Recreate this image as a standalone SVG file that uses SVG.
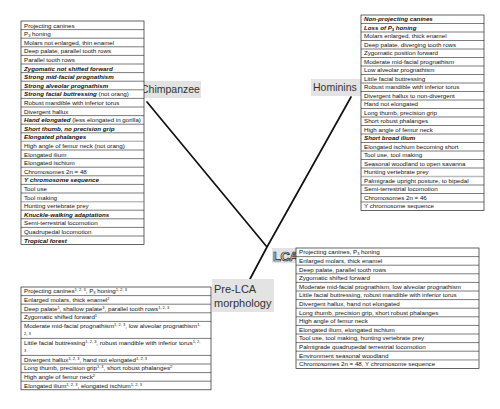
<svg xmlns="http://www.w3.org/2000/svg" width="500" height="409" viewBox="0 0 500 409">
<style>
.t{font-family:"Liberation Sans",Arial,sans-serif;font-size:6.2px;fill:#111}
.bi{font-weight:bold;font-style:italic}
.sup{font-size:4px}
.tb{fill:#fff;stroke:#222;stroke-width:0.7}
.rl{fill:none;stroke:#222;stroke-width:0.6}
.gl{fill:none;stroke:#bbb;stroke-width:1.4}
.lb{fill:#e3e3e3}
.lt{font-family:"Liberation Sans",Arial,sans-serif;font-size:10.5px;fill:#333}
.br{fill:none;stroke:#111;stroke-width:1.7;stroke-linecap:round}
</style>
<rect width="500" height="409" fill="#fff"/>
<g id="connectors">
<path class="br" d="M147 102L267 247M351 97L267 247M267 247L250 279"/>
</g>
<g id="chimpanzee">
<rect class="lb" x="139" y="81" width="62" height="17"/>
<text class="lt" x="141" y="93">Chimpanzee</text>
<rect class="tb" x="21" y="21" width="123" height="223.6"/>
<path class="rl" d="M21 29.6H144M21 38.2H144M21 46.8H144M21 55.4H144M21 64H144M21 72.6H144M21 81.2H144M21 89.8H144M21 98.4H144M21 107H144M21 115.6H144M21 124.2H144M21 132.8H144M21 141.4H144M21 150H144M21 158.6H144M21 167.2H144M21 175.8H144M21 184.4H144M21 193H144M21 201.6H144M21 210.2H144M21 218.8H144M21 227.4H144M21 236H144"/>
<path class="gl" d="M21.5 141.4H143.5M21.5 201.6H143.5"/>
<g class="t">
<text x="24" y="27.5">Projecting canines</text>
<text x="24" y="36.1">P<tspan class="sup" dy="1">3</tspan><tspan dy="-1"> honing</tspan></text>
<text x="24" y="44.7">Molars not enlarged, thin enamel</text>
<text x="24" y="53.3">Deep palate, parallel tooth rows</text>
<text x="24" y="61.9">Parallel tooth rows</text>
<text x="24" y="70.5" class="bi">Zygomatic not shifted forward</text>
<text x="24" y="79.1" class="bi">Strong mid-facial prognathism</text>
<text x="24" y="87.7" class="bi">Strong alveolar prognathism</text>
<text x="24" y="96.3"><tspan class="bi">Strong facial buttressing</tspan> (not orang)</text>
<text x="24" y="104.9">Robust mandible with inferior torus</text>
<text x="24" y="113.5">Divergent hallux</text>
<text x="24" y="122.1"><tspan class="bi">Hand elongated</tspan> (less elongated in gorilla)</text>
<text x="24" y="130.7" class="bi">Short thumb, no precision grip</text>
<text x="24" y="139.3" class="bi">Elongated phalanges</text>
<text x="24" y="147.9">High angle of femur neck (not orang)</text>
<text x="24" y="156.5">Elongated ilium</text>
<text x="24" y="165.1">Elongated ischium</text>
<text x="24" y="173.7">Chromosomes 2n = 48</text>
<text x="24" y="182.3" class="bi">Y chromosome sequence</text>
<text x="24" y="190.9">Tool use</text>
<text x="24" y="199.5">Tool making</text>
<text x="24" y="208.1">Hunting vertebrate prey</text>
<text x="24" y="216.7" class="bi">Knuckle-walking adaptations</text>
<text x="24" y="225.3">Semi-terrestrial locomotion</text>
<text x="24" y="233.9">Quadrupedal locomotion</text>
<text x="24" y="242.5" class="bi">Tropical forest</text>
</g>
</g>
<g id="hominins">
<rect class="lb" x="311" y="79" width="50" height="17"/>
<text class="lt" x="313" y="91">Hominins</text>
<rect class="tb" x="361" y="15" width="123" height="195.5"/>
<path class="rl" d="M361 23.5H484M361 32H484M361 40.5H484M361 49H484M361 57.5H484M361 66H484M361 74.5H484M361 83H484M361 91.5H484M361 100H484M361 108.5H484M361 117H484M361 125.5H484M361 134H484M361 142.5H484M361 151H484M361 159.5H484M361 168H484M361 176.5H484M361 185H484M361 193.5H484M361 202H484"/>
<path class="gl" d="M361.5 83H483.5M361.5 176.5H483.5"/>
<g class="t">
<text x="364" y="21.4" class="bi">Non-projecting canines</text>
<text x="364" y="29.9" class="bi">Loss of P<tspan class="sup" dy="1">3</tspan><tspan dy="-1"> honing</tspan></text>
<text x="364" y="38.4">Molars enlarged, thick enamel</text>
<text x="364" y="46.9">Deep palate, diverging tooth rows</text>
<text x="364" y="55.4">Zygomatic position forward</text>
<text x="364" y="63.9">Moderate mid-facial prognathism</text>
<text x="364" y="72.4">Low alveolar prognathism</text>
<text x="364" y="80.9">Little facial buttressing</text>
<text x="364" y="89.4">Robust mandible with inferior torus</text>
<text x="364" y="97.9">Divergent hallux to non-divergent</text>
<text x="364" y="106.4">Hand not elongated</text>
<text x="364" y="114.9">Long thumb, precision grip</text>
<text x="364" y="123.4">Short robust phalanges</text>
<text x="364" y="131.9">High angle of femur neck</text>
<text x="364" y="140.4" class="bi">Short broad ilium</text>
<text x="364" y="148.9">Elongated ischium becoming short</text>
<text x="364" y="157.4">Tool use, tool making</text>
<text x="364" y="165.9">Seasonal woodland to open savanna</text>
<text x="364" y="174.4">Hunting vertebrate prey</text>
<text x="364" y="182.9">Palmigrade upright posture, to bipedal</text>
<text x="364" y="191.4">Semi-terrestrial locomotion</text>
<text x="364" y="199.9">Chromosomes 2n = 46</text>
<text x="364" y="208.4">Y chromosome sequence</text>
</g>
</g>
<g id="lca">
<rect class="lb" x="272" y="248" width="24" height="15"/>
<text x="273" y="261" style="font-family:'Liberation Sans',Arial,sans-serif;font-size:13px;font-weight:bold;fill:#d8d8d8;stroke:#222;stroke-width:0.7;letter-spacing:-0.5px">LCA</text>
<rect class="tb" x="296" y="248" width="183" height="120.4"/>
<path class="rl" d="M296 256.6H479M296 265.2H479M296 273.8H479M296 282.4H479M296 291H479M296 299.6H479M296 308.2H479M296 316.8H479M296 325.4H479M296 334H479M296 342.6H479M296 351.2H479M296 359.8H479"/>
<path class="gl" d="M296.5 359.8H478.5"/>
<g class="t">
<text x="299" y="254.4">Projecting canines, P<tspan class="sup" dy="1">3</tspan><tspan dy="-1"> honing</tspan></text>
<text x="299" y="263">Enlarged molars, thick enamel</text>
<text x="299" y="271.6">Deep palate, parallel tooth rows</text>
<text x="299" y="280.2">Zygomatic shifted forward</text>
<text x="299" y="288.8">Moderate mid-facial prognathism, low alveolar prognathism</text>
<text x="299" y="297.4">Little facial buttressing, robust mandible with inferior torus</text>
<text x="299" y="306">Divergent hallux, hand not elongated</text>
<text x="299" y="314.6">Long thumb, precision grip, short robust phalanges</text>
<text x="299" y="323.2">High angle of femur neck</text>
<text x="299" y="331.8">Elongated ilium, elongated ischium</text>
<text x="299" y="340.4">Tool use, tool making, hunting vertebrate prey</text>
<text x="299" y="349">Palmigrade quadrupedal terrestrial locomotion</text>
<text x="299" y="357.6">Environment seasonal woodland</text>
<text x="299" y="366.2">Chromosomes 2n = 48, Y chromosome sequence</text>
</g>
</g>
<g id="pre-lca">
<rect class="lb" x="212" y="279" width="62" height="33"/>
<text class="lt" x="214" y="293" style="font-size:11px">Pre-LCA</text>
<text class="lt" x="214" y="307" style="font-size:11px">morphology</text>
<rect class="tb" x="21" y="287" width="190" height="102.8"/>
<path class="rl" d="M21 295.6H211M21 304.2H211M21 312.8H211M21 321.4H211M21 338.4H211M21 355.4H211M21 364H211M21 372.6H211M21 381.2H211"/>
<path class="gl" d="M21.5 364H210.5"/>
<g class="t">
<text x="24" y="293.4">Projecting canines<tspan class="sup" dy="-2">1, 2, 3</tspan><tspan dy="2">, P</tspan><tspan class="sup" dy="1">3</tspan><tspan dy="-1"> honing</tspan><tspan class="sup" dy="-2">1, 2, 3</tspan></text>
<text x="24" y="302">Enlarged molars, thick enamel<tspan class="sup" dy="-2">2</tspan></text>
<text x="24" y="310.6">Deep palate<tspan class="sup" dy="-2">1</tspan><tspan dy="2">, shallow palate</tspan><tspan class="sup" dy="-2">3</tspan><tspan dy="2">, parallel tooth rows</tspan><tspan class="sup" dy="-2">1, 2, 3</tspan></text>
<text x="24" y="319.2">Zygomatic shifted forward<tspan class="sup" dy="-2">1</tspan></text>
<text x="24" y="327.8">Moderate mid-facial prognathism<tspan class="sup" dy="-2">1, 2, 3</tspan><tspan dy="2">, low alveolar prognathism</tspan><tspan class="sup" dy="-2">1,</tspan></text>
<text x="24" y="334.8" class="sup">2, 3</text>
<text x="24" y="344.8">Little facial buttressing<tspan class="sup" dy="-2">1, 2, 3</tspan><tspan dy="2">, robust mandible with inferior torus</tspan><tspan class="sup" dy="-2">1, 2,</tspan></text>
<text x="24" y="351.8" class="sup">3</text>
<text x="24" y="361.8">Divergent hallux<tspan class="sup" dy="-2">1, 2, 3</tspan><tspan dy="2">, hand not elongated</tspan><tspan class="sup" dy="-2">1, 2, 3</tspan></text>
<text x="24" y="370.4">Long thumb, precision grip<tspan class="sup" dy="-2">1, 3</tspan><tspan dy="2">, short robust phalanges</tspan><tspan class="sup" dy="-2">2</tspan></text>
<text x="24" y="379">High angle of femur neck<tspan class="sup" dy="-2">2</tspan></text>
<text x="24" y="387.6">Elongated ilium<tspan class="sup" dy="-2">1, 2, 3</tspan><tspan dy="2">, elongated ischium</tspan><tspan class="sup" dy="-2">1, 2, 3</tspan></text>
</g>
</g>
</svg>
